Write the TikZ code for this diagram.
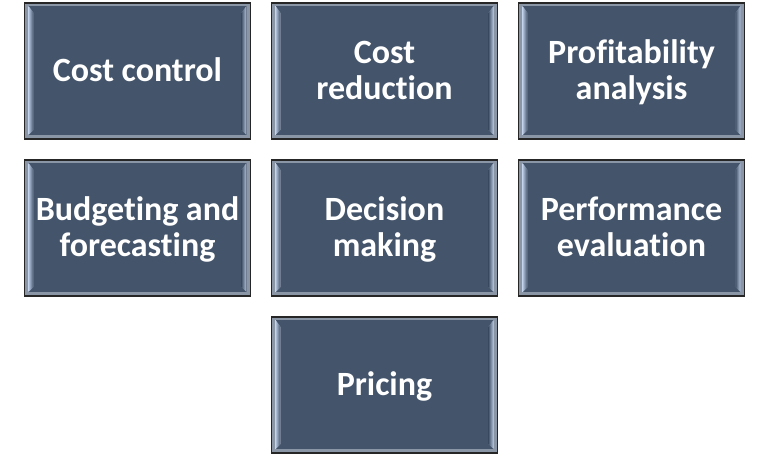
\documentclass[tikz,border=0pt]{standalone}
\usepackage{fontspec}
\setmainfont{Carlito}[Ligatures=NoCommon]
\usetikzlibrary{positioning}
\definecolor{slate}{HTML}{44546A}
\definecolor{rim}{HTML}{8A95A6}
\definecolor{shine}{HTML}{B8C8E0}
\begin{document}
\begin{tikzpicture}[x=1pt,y=1pt,font=\bfseries\fontsize{34}{36}\selectfont,
	node distance=21pt and 21pt,
	tile/.style={draw=black!85,line width=1.5pt,fill=rim,outer sep=0pt,inner sep=0pt,
		minimum width=226pt,minimum height=136pt,text width=224pt,align=center,text=white,
		execute at begin node={\spaceskip=0.22em\relax\rule{0pt}{31pt}},execute at end node={\strut},
		path picture={
		\def\bb{path picture bounding box}
		\fill[slate]([shift={(4,4)}]\bb.south west)rectangle([shift={(-4,-3)}]\bb.north east);
		\fill[left color=shine,right color=slate]([shift={(4,4)}]\bb.south west)--([shift={(4,-3)}]\bb.north west)--++(5,-7)--([shift={(9,9)}]\bb.south west)--cycle;
		\fill[right color=shine,left color=slate]([shift={(-4,4)}]\bb.south east)--([shift={(-4,-3)}]\bb.north east)--++(-5,-7)--([shift={(-9,9)}]\bb.south east)--cycle;
		}}]
	\useasboundingbox(0,0)rectangle(768,455);
	% first row
	\node[tile](cc)at(137.5,384){Cost control};
	\node[tile,right=of cc](cr){Cost\\reduction};
	\node[tile,right=of cr](pa){Profitability\\analysis};
	% second row
	\node[tile,below=of cc](bf){Budgeting and\\forecasting};
	\node[tile,below=of cr](dm){Decision\\making};
	\node[tile,below=of pa](pe){Performance\\evaluation};
	% last one
	\node[tile,below=of dm](pr){Pricing};
\end{tikzpicture}
\end{document}
